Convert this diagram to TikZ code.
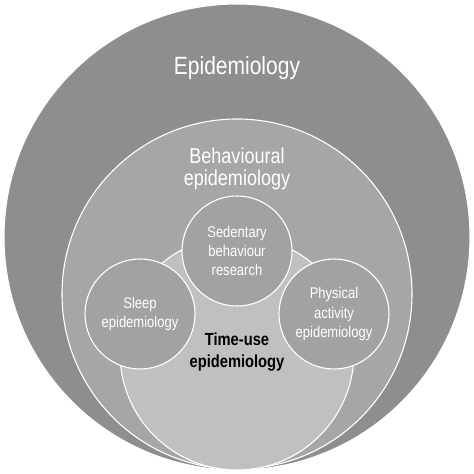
\documentclass[tikz,border=0pt]{standalone}
\usepackage{fontspec}
\setmainfont{Liberation Sans}[FakeStretch=0.84]
\usepackage{xcolor}
\usetikzlibrary{positioning}

\definecolor{outergray}{HTML}{8E8E8E}
\definecolor{behavgray}{HTML}{A6A6A6}
\definecolor{timegray}{HTML}{C0C0C0}
\definecolor{fieldgray}{HTML}{A2A2A2}

\tikzset{
    area/.style={circle, draw=white, line width=1.1pt, inner sep=0pt},
    field/.style={area, fill=fieldgray, minimum size=110pt, text=white,
        align=center, font=\fontsize{15.5}{19.3}\selectfont},
    heading/.style={text=white, align=center}
}

\begin{document}
\begin{tikzpicture}[x=1pt, y=1pt]
    \useasboundingbox (0,0) rectangle (474,474);
    % Nested areas
    \node[area, fill=outergray, minimum size=466pt] (epi) at (237,237) {};
    \node[area, fill=behavgray, minimum size=350pt] (behav) at (237,180) {};
    \node[area, fill=timegray, minimum size=234pt] (timeuse) at (237,121) {};

    % Headings
    \node[heading, font=\fontsize{25}{28}\selectfont] (epilabel) at (237,406) {Epidemiology};
    \node[heading, font=\fontsize{21.5}{22}\selectfont] (behavlabel) at (237,305) {Behavioural\\epidemiology};

    % Overlapping research fields
    \node[field] (sedentary) at (237,223) {Sedentary\\behaviour\\research};
    \node[field] (sleep) at (140,160) {Sleep\\epidemiology};
    \node[field] (physical) at (334,160) {Physical\\activity\\epidemiology};

    \node[align=center, font=\bfseries\fontsize{17.5}{21.5}\selectfont] (timelabel) at (237,122) {Time-use\\epidemiology};
\end{tikzpicture}
\end{document}
